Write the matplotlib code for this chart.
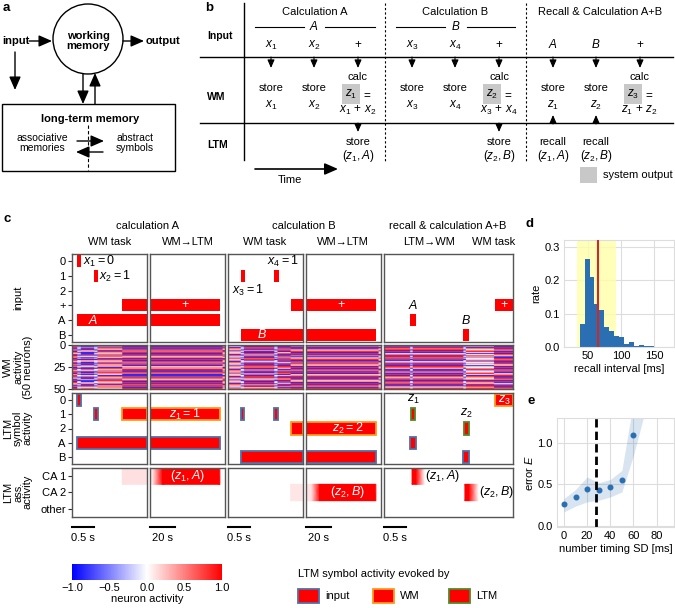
import numpy as np
import matplotlib
matplotlib.use('Agg')
import matplotlib.pyplot as plt
import matplotlib.transforms as mtransforms
from matplotlib.patches import Rectangle, Circle
from matplotlib.cm import ScalarMappable
from matplotlib.colors import Normalize

plt.rcParams['font.family'] = ['Liberation Sans', 'DejaVu Sans']
plt.rcParams['mathtext.fontset'] = 'custom'
plt.rcParams['mathtext.rm'] = 'Liberation Sans'
plt.rcParams['mathtext.it'] = 'Liberation Sans:italic'
plt.rcParams['font.size'] = 7.5

# ---------------- data ----------------
# panel b columns
b_inputs = ['$x_1$', '$x_2$', '+', '$x_3$', '$x_4$', '+', '$A$', '$B$', '+']
b_store = {0: '$x_1$', 1: '$x_2$', 3: '$x_3$', 4: '$x_4$', 6: '$z_1$', 7: '$z_2$'}
b_calc = {2: ('$z_1$', r'$x_1\,+\,x_2$'), 5: ('$z_2$', r'$x_3\,+\,x_4$'), 8: ('$z_3$', r'$z_1\,+\,z_2$')}
b_ltm_store = {2: '$(z_1, A)$', 5: '$(z_2, B)$'}
b_ltm_recall = {6: '$(z_1, A)$', 7: '$(z_2, B)$'}

# panel c
input_rows = ['0', '1', '2', '+', 'A', 'B']
symbol_rows = ['0', '1', '2', 'A', 'B']
ass_rows = ['CA 1', 'CA 2', 'other']
box_tmax = [1.7, 60, 1.7, 60, 2.93]
box_scale = [0.5, 20, 0.5, 20, 0.5]
box_scale_lbl = ['0.5 s', '20 s', '0.5 s', '20 s', '0.5 s']

# (box, row, t_start, t_end)
input_bars = [(0, 0, 0.12, 0.20), (0, 1, 0.50, 0.58), (0, 3, 1.14, 1.70), (0, 4, 0.12, 1.70),
              (1, 3, 0, 56), (1, 4, 0, 56),
              (2, 1, 0.29, 0.39), (2, 1, 1.05, 1.15), (2, 3, 1.42, 1.70), (2, 5, 0.29, 1.70),
              (3, 3, 0, 56), (3, 5, 0, 56),
              (4, 4, 0.59, 0.73), (4, 5, 1.80, 1.93), (4, 3, 2.52, 2.93)]
# (box, row, t, text, colour, ha)
input_labels = [(0, 0, 0.24, '$x_1 = 0$', 'k', 'left'), (0, 1, 0.61, '$x_2 = 1$', 'k', 'left'),
                (0, 4, 0.48, '$A$', 'w', 'center'), (1, 3, 28, '+', 'w', 'center'),
                (2, 2, 0.08, '$x_3 = 1$', 'k', 'left'), (2, 0, 1.6, '$x_4 = 1$', 'k', 'right'),
                (2, 5, 0.78, '$B$', 'w', 'center'), (3, 3, 28, '+', 'w', 'center'),
                (4, 3, 0.66, '$A$', 'k', 'center'), (4, 4, 1.87, '$B$', 'k', 'center'),
                (4, 3, 2.73, '+', 'w', 'center')]

# (box, row, t_start, t_end, evoked by)
symbol_bars = [(0, 0, 0.12, 0.20, 'input'), (0, 1, 0.50, 0.58, 'input'), (0, 1, 1.14, 1.70, 'WM'),
               (0, 3, 0.12, 1.70, 'input'),
               (1, 1, 0, 56, 'WM'), (1, 3, 0, 56, 'input'),
               (2, 1, 0.29, 0.37, 'input'), (2, 1, 1.05, 1.13, 'input'), (2, 2, 1.42, 1.70, 'WM'),
               (2, 4, 0.29, 1.70, 'input'),
               (3, 2, 0, 56, 'WM'), (3, 4, 0, 56, 'input'),
               (4, 1, 0.61, 0.71, 'LTM'), (4, 3, 0.59, 0.73, 'input'), (4, 2, 1.82, 1.92, 'LTM'),
               (4, 4, 1.80, 1.93, 'input'), (4, 0, 2.52, 2.93, 'WM')]
symbol_labels = [(1, 1, 28, '$z_1 = 1$', 'w', 'center'), (3, 2, 33, '$z_2 = 2$', 'w', 'center'),
                 (4, -0.05, 0.66, '$z_1$', 'k', 'center'), (4, 0.95, 1.87, '$z_2$', 'k', 'center'),
                 (4, 0, 2.73, '$z_3$', 'w', 'center')]
src_edge = {'input': '#4f6fa8', 'WM': '#ff9a1a', 'LTM': '#4f8a2a'}

# LTM associative activity keypoints: (box, row, times, values)
ass_keys = [(0, 0, [1.14, 1.70], [0.12, 0.12]),
            (1, 0, [0, 2.4, 10, 56, 56.05], [0.12, 0.12, 1, 1, 0]),
            (2, 1, [1.42, 1.70], [0.1, 0.1]),
            (3, 1, [0, 4.5, 11, 56, 56.05], [0.1, 0.12, 1, 1, 0]),
            (4, 0, [0.63, 0.64, 0.73, 0.92], [0, 1, 1, 0]),
            (4, 1, [1.83, 1.84, 1.93, 2.14], [0, 1, 1, 0])]
ass_labels = [(1, 0, 30, '$(z_1, A)$', 'w', 'center'), (3, 1, 33, '$(z_2, B)$', 'w', 'center'),
              (4, 0, 0.93, '$(z_1, A)$', 'k', 'left'), (4, 1, 2.15, '$(z_2, B)$', 'k', 'left')]

# WM neuron states (50 neurons, activity in quarters)
wm_init = [4, -3, 4, 4, -4, 2, 4, -4, 3, 1,
           4, -4, 4, 2, 3, -4, 4, 4, 1, -3,
           4, -4, 2, 4, 3, -4, 4, -4, 1, 3,
           4, 4, -4, 2, 4, -3, 4, 1, 3, -4,
           4, -4, 4, 2, 1, -4, 4, 3, -4, 4]
wm_x1 = [-4, -4, 2, -4, 4, -4, 1, 2, -4, -4,
         4, -4, 1, 1, -4, 3, -4, 2, 1, -4,
         -4, 4, -4, 2, 1, -3, -4, 4, 1, 2,
         -4, -4, 3, -4, 1, 2, -4, 4, -4, 1,
         -4, -4, 2, 1, -4, 4, -4, 2, 1, 3]
wm_blip = [-4, -3, 1, -2, 0, -4, 2, -1, -3, 1,
           2, -4, -1, 1, -3, 2, -4, -1, 1, 0,
           -4, 2, -2, -3, 1, 2, -4, 0, -1, 1,
           -4, -2, 2, -3, 0, 1, -4, -1, 2, -2,
           -4, 1, 0, -3, 2, 1, -4, -1, 1, 2]
wm_x2 = [2, 3, -3, 4, 1, 2, -4, 4, 2, 1,
         3, -2, 4, 2, 1, -4, 4, 2, 1, 3,
         -3, 4, 1, 2, 2, -4, 4, 1, 2, 3,
         -2, 4, 2, 1, -4, 4, 1, 2, 3, -3,
         4, 2, 1, 2, -4, 4, 1, 3, 2, 1]
wm_plusA = [-4, -4, 4, -4, 4, -3, 3, 3, 4, -4,
            4, -4, 2, 1, 3, -4, 4, -4, 4, 3,
            3, -3, 4, -4, 1, 2, 2, 4, -4, 4,
            -4, 3, 3, -4, -4, 4, -3, 4, 2, 1,
            4, -4, 4, -4, 3, 4, -3, 4, -4, 4]
wm_pre3 = [2, 1, -4, 4, 1, 2, -3, 2, 1, 1,
           -4, 4, 2, 1, -2, 3, 1, 2, -4, 4,
           1, 1, 2, -3, 2, 1, 2, -4, 4, 1,
           2, -2, 3, 1, 1, -4, 4, 2, 1, -3,
           2, 1, 2, -4, 4, 1, 2, 1, -2, 3]
wm_x3 = [4, -4, 4, 3, -4, 4, 2, -4, -4, 4,
         3, 1, -4, 4, -4, 3, 4, -3, 1, 2,
         -4, 4, -4, 4, 3, 3, -4, 4, 1, -4,
         4, -4, 2, 3, -4, 4, 4, -3, 1, 2,
         4, -4, 4, -4, 3, 2, -4, 4, 1, 3]
wm_x4 = [3, -4, 4, -4, 2, 4, 4, -4, 1, 3,
         -4, 4, -4, 2, 3, -3, 4, 4, -4, 1,
         2, -4, 4, -4, 4, 3, 1, -4, 4, 2,
         -4, 4, 3, -4, 1, 4, -4, 4, 2, 3,
         -4, 4, -3, 1, 4, -4, 4, 2, -4, 3]
wm_plusB = [4, 3, -4, 4, -4, 1, 2, 4, -4, 4,
            -4, 3, 3, -4, 1, 2, 4, -4, 4, -3,
            3, 4, 1, 2, -4, 4, -4, 4, 3, 3,
            -4, 4, -4, 1, 2, 4, -4, 4, -4, 3,
            1, 2, -4, 4, -4, 4, 3, 3, -4, 4]
wm_rec1 = [-4, 4, -4, 3, 3, 4, -4, 4, -4, 1,
           2, 4, -4, 4, 3, -3, 4, -4, 1, 2,
           3, -4, 4, -4, 4, 3, 1, -4, 4, -4,
           2, 3, -4, 4, -4, 4, 1, 2, -3, 4,
           -4, 4, 3, 3, -4, 4, -4, 1, 2, 4]
wm_rec2 = [4, 2, -4, 4, 1, 0, 3, 4, 1, -4,
           0, 2, 4, 1, -2, 0, 1, 3, -3, 0,
           1, 2, 0, -4, 1, 0, 2, 4, -3, 0,
           1, 2, 4, 1, -4, 4, 2, 1, 0, 3,
           -4, 4, 2, 1, 4, -4, 4, 3, 2, 4]
wm_final = [-4, -4, 4, -4, 4, 3, 3, -4, 4, -4,
            4, 1, 2, -4, -4, 4, 3, 4, -4, 4,
            -4, 3, 1, 2, -4, 4, -4, 4, 3, -3,
            4, -4, 1, 2, 4, -4, 4, -4, 3, 3,
            -4, 4, -4, 1, 2, -4, 4, -4, 4, 3]

# (segment end time, state) per box
wm_box1 = [(0.12, wm_init), (0.20, wm_blip), (0.50, wm_x1), (0.58, wm_blip), (1.14, wm_x2), (1.70, wm_plusA)]
wm_box2 = [(58, wm_plusA), (60, wm_x2)]
wm_box3 = [(0.29, wm_pre3), (0.36, wm_blip), (1.05, wm_x3), (1.12, wm_blip), (1.42, wm_x4), (1.70, wm_plusB)]
wm_box4 = [(58, wm_plusB), (60, wm_pre3)]
wm_box5 = [(0.59, wm_rec1), (0.65, wm_blip), (1.80, wm_rec1), (1.86, wm_blip), (2.50, wm_rec2), (2.93, wm_final)]
wm_boxes = [wm_box1, wm_box2, wm_box3, wm_box4, wm_box5]

# panel d
interval_bins = [37.5, 45, 52.5, 60, 67.5, 75, 82.5, 90, 97.5, 105, 112.5, 120, 127.5, 135, 142.5, 150, 157.5]
interval_rate = [0.068, 0.264, 0.209, 0.128, 0.112, 0.061, 0.049, 0.033, 0.030, 0.008, 0.015, 0.004, 0.005, 0.003, 0.002, 0.001, 0.001]
interval_mean = 66
interval_range = (34, 93)

# panel e
timing_sd = [0, 10, 20, 30, 40, 50, 60, 70]
error_mean = [0.27, 0.35, 0.45, 0.43, 0.47, 0.55, 1.09, 1.70]
error_lo = [0.17, 0.24, 0.29, 0.31, 0.35, 0.41, 0.85, 1.38]
error_hi = [0.33, 0.44, 0.59, 0.52, 0.56, 0.67, 1.50, 2.00]
timing_measured = 28

# ---------------- figure ----------------
W, H = 675, 608
fig = plt.figure(figsize=(W / 100, H / 100), dpi=100)


def px_axes(x0, y0, x1, y1):
    return fig.add_axes([x0 / W, 1 - y1 / H, (x1 - x0) / W, (y1 - y0) / H])


ov = px_axes(0, 0, W, H)
ov.set_xlim(0, W)
ov.set_ylim(H, 0)
ov.axis('off')


def arrow(x0, y0, x1, y1, lw=1.0, ms=10, hl=0.8, hw=0.35):
    ov.annotate('', xy=(x1, y1), xytext=(x0, y0),
                arrowprops=dict(arrowstyle='-|>,head_length=%g,head_width=%g' % (hl, hw),
                                lw=lw, color='k', shrinkA=0, shrinkB=0, mutation_scale=ms))


# ---- panel a
ov.text(3, 8, 'a', fontweight='bold', fontsize=9.5, va='center')
ov.add_patch(Circle((88, 39), 35, fill=False, lw=1))
ov.text(88, 41, 'working\nmemory', ha='center', va='center', fontweight='bold', fontsize=8, linespacing=0.95)
ov.text(2, 41, 'input', fontweight='bold', fontsize=8, va='center')
arrow(29, 41, 52, 41)
arrow(123, 41, 144, 41)
ov.text(146, 41, 'output', fontweight='bold', fontsize=8, va='center')
arrow(15, 52, 15, 90)
ov.add_patch(Rectangle((2, 104), 173, 67, fill=False, lw=1))
arrow(83, 74, 83, 104)
arrow(95, 104, 95, 73)
ov.text(90, 119, 'long-term memory', ha='center', va='center', fontweight='bold', fontsize=8)
ov.plot([88, 88], [125, 170], color='k', lw=0.8, dashes=(3, 2))
ov.text(42, 143, 'associative\nmemories', ha='center', va='center', fontsize=7.5, linespacing=0.9)
ov.text(135, 143, 'abstract\nsymbols', ha='center', va='center', fontsize=7.5, linespacing=0.9)
arrow(77, 141, 104, 141)
arrow(103, 152, 76, 152)

# ---- panel b
ov.text(205, 8, 'b', fontweight='bold', fontsize=9.5, va='center')
ov.plot([244, 244], [3, 160], color='k', lw=1)
ov.plot([200, 673], [57, 57], color='k', lw=1)
ov.plot([200, 673], [123, 123], color='k', lw=1)
for xd in [385, 526]:
    ov.plot([xd, xd], [3, 163], color='k', lw=0.8, dashes=(2, 2))
ov.text(207, 36, 'Input', fontweight='bold', va='center')
ov.text(207, 97, 'WM', fontweight='bold', va='center')
ov.text(207, 145, 'LTM', fontweight='bold', va='center')
ov.text(315, 12, 'Calculation A', ha='center', va='center', fontsize=8)
ov.text(455, 12, 'Calculation B', ha='center', va='center', fontsize=8)
ov.text(600, 12, 'Recall & Calculation A+B', ha='center', va='center', fontsize=8)
ov.plot([255, 304], [27, 27], 'k', lw=0.8)
ov.plot([325, 375], [27, 27], 'k', lw=0.8)
ov.text(314, 27, '$A$', ha='center', va='center', fontsize=8.5)
ov.plot([396, 445], [27, 27], 'k', lw=0.8)
ov.plot([467, 515], [27, 27], 'k', lw=0.8)
ov.text(456, 27, '$B$', ha='center', va='center', fontsize=8.5)
b_cols = [271, 314, 358, 412, 455, 499, 553, 596, 640]
for i, xc in enumerate(b_cols):
    ov.text(xc, 45, b_inputs[i], ha='center', va='center', fontsize=8.5)
    arrow(xc, 57, xc, 68, lw=0.8, ms=6)
    if i in b_store:
        ov.text(xc, 88, 'store', ha='center', va='center', fontsize=8)
        ov.text(xc, 105, b_store[i], ha='center', va='center', fontsize=8.5)
    if i in b_calc:
        ov.text(xc, 77, 'calc', ha='center', va='center', fontsize=8)
        ov.text(xc - 7, 94, b_calc[i][0], ha='center', va='center', fontsize=8.5,
                bbox=dict(boxstyle='square,pad=0.25', fc='#c8c8c8', ec='none'))
        ov.text(xc + 9, 94, '$=$', ha='center', va='center', fontsize=8.5)
        ov.text(xc, 110, b_calc[i][1], ha='center', va='center', fontsize=8.5)
    if i in b_ltm_store:
        arrow(xc, 123, xc, 132, lw=0.8, ms=6)
        ov.text(xc, 142, 'store', ha='center', va='center', fontsize=8)
        ov.text(xc, 156, b_ltm_store[i], ha='center', va='center', fontsize=8.5)
    if i in b_ltm_recall:
        arrow(xc, 124, xc, 115, lw=0.8, ms=6)
        ov.text(xc, 142, 'recall', ha='center', va='center', fontsize=8)
        ov.text(xc, 156, b_ltm_recall[i], ha='center', va='center', fontsize=8.5)
arrow(255, 169, 338, 169, lw=1.2, ms=10)
ov.text(290, 180, 'Time', ha='center', va='center', fontsize=8)
ov.add_patch(Rectangle((580, 167), 17, 16, fc='#c8c8c8', ec='none'))
ov.text(603, 175, 'system output', va='center', fontsize=8)

# ---- panel c
ov.text(3, 219, 'c', fontweight='bold', fontsize=9.5, va='center')
ov.text(148, 226, 'calculation A', ha='center', va='center', fontsize=8)
ov.text(304, 226, 'calculation B', ha='center', va='center', fontsize=8)
ov.text(448, 226, 'recall & calculation A+B', ha='center', va='center', fontsize=8)
for xh, lbl in [(110, 'WM task'), (188, 'WM\u2192LTM'), (265, 'WM task'), (343, 'WM\u2192LTM'),
                (429, 'LTM\u2192WM'), (494, 'WM task')]:
    ov.text(xh, 242, lbl, ha='center', va='center', fontsize=8)
for yl, lbl in [(298, 'input'), (367, 'WM\nactivity\n(50 neurons)'),
                (428, 'LTM\nsymbol\nactivity'), (492, 'LTM\nass.\nactivity')]:
    ov.text(18, yl, lbl, rotation=90, ha='center', va='center', fontsize=8, linespacing=0.95)

box_px = [(72, 147), (150, 225), (228, 303), (306, 381), (384, 513)]
row_px = {'input': (254, 342), 'wm': (345, 389), 'sym': (393, 464), 'ass': (468, 517)}
cmap = plt.get_cmap('bwr')


def style_box(ax, b, tmax):
    ax.set_xlim(0, tmax)
    ax.set_xticks([])
    for s in ax.spines.values():
        s.set_color('#555555')
        s.set_linewidth(1)
    ax.tick_params(axis='y', length=3, width=0.8, color='#333333', labelsize=8, pad=1.5)
    if b > 0:
        ax.set_yticks([])


for b, (x0, x1) in enumerate(box_px):
    tmax = box_tmax[b]

    # input
    ax = px_axes(x0, row_px['input'][0], x1, row_px['input'][1])
    style_box(ax, b, tmax)
    ax.set_ylim(5.5, -0.5)
    for bb, r, t0, t1 in input_bars:
        if bb == b:
            ax.barh(r, t1 - t0, left=t0, height=0.82, color='#ff0000', lw=0)
    for bb, r, t, txt, col, ha in input_labels:
        if bb == b:
            ax.text(t, r, txt, color=col, ha=ha, va='center', fontsize=9)
    if b == 0:
        ax.set_yticks(range(6))
        ax.set_yticklabels(input_rows)

    # WM activity
    ax = px_axes(x0, row_px['wm'][0], x1, row_px['wm'][1])
    style_box(ax, b, tmax)
    tc = (np.arange(400) + 0.5) * tmax / 400
    cols = []
    for t in tc:
        for t_end, state in wm_boxes[b]:
            if t < t_end:
                cols.append(state)
                break
        else:
            cols.append(wm_boxes[b][-1][1])
    img = np.array(cols).T / 4.0
    ax.imshow(img, extent=(0, tmax, 50, 0), aspect='auto', cmap=cmap, vmin=-1, vmax=1,
              interpolation='antialiased', alpha=0.85)
    ax.set_xlim(0, tmax)
    ax.set_ylim(50, 0)
    if b == 0:
        ax.set_yticks([0, 25, 50])

    # LTM symbol activity
    ax = px_axes(x0, row_px['sym'][0], x1, row_px['sym'][1])
    style_box(ax, b, tmax)
    ax.set_ylim(4.5, -0.5)
    for bb, r, t0, t1, src in symbol_bars:
        if bb == b:
            ax.barh(r, t1 - t0, left=t0, height=0.86, color='#ff0000', edgecolor=src_edge[src], lw=1.3)
    for bb, r, t, txt, col, ha in symbol_labels:
        if bb == b:
            ax.text(t, r, txt, color=col, ha=ha, va='center', fontsize=9)
    if b == 0:
        ax.set_yticks(range(5))
        ax.set_yticklabels(symbol_rows)

    # LTM associative activity
    ax = px_axes(x0, row_px['ass'][0], x1, row_px['ass'][1])
    style_box(ax, b, tmax)
    ax.set_ylim(2.5, -0.5)
    for bb, r, ts, vs in ass_keys:
        if bb == b:
            X = np.array([ts, ts])
            Y = np.array([[r - 0.5] * len(ts), [r + 0.5] * len(ts)])
            C = np.array([vs, vs])
            ax.pcolormesh(X, Y, C, shading='gouraud', cmap=cmap, vmin=-1, vmax=1)
    for bb, r, t, txt, col, ha in ass_labels:
        if bb == b:
            ax.text(t, r, txt, color=col, ha=ha, va='center', fontsize=9)
    ax.set_xlim(0, tmax)
    ax.set_ylim(2.5, -0.5)
    if b == 0:
        ax.set_yticks(range(3))
        ax.set_yticklabels(ass_rows)
    # scale bar
    tr = mtransforms.blended_transform_factory(ax.transData, ax.transAxes)
    ax.plot([0, box_scale[b]], [-0.2, -0.2], color='k', lw=1.5, transform=tr, clip_on=False)
    ax.text(box_scale[b] / 2, -0.42, box_scale_lbl[b], transform=tr, ha='center', va='center', fontsize=8)

# colorbar
cax = px_axes(72, 564, 222, 580)
cb = fig.colorbar(ScalarMappable(norm=Normalize(-1, 1), cmap=cmap), cax=cax, orientation='horizontal')
cb.set_ticks([-1, -0.5, 0, 0.5, 1])
cb.outline.set_visible(False)
cax.tick_params(length=0, labelsize=8, pad=2)
cb.set_label('neuron activity', fontsize=8, labelpad=1)

# legend for symbol activity
ov.text(298, 574, 'LTM symbol activity evoked by', va='center', fontsize=8)
for xl, src in [(298, 'input'), (373, 'WM'), (449, 'LTM')]:
    ov.add_patch(Rectangle((xl, 589), 21, 14, fc='#ff0000', ec=src_edge[src], lw=1.3))
    ov.text(xl + 27, 596, src, va='center', fontsize=8)

# ---- panel d
ov.text(525, 224, 'd', fontweight='bold', fontsize=9.5, va='center')
ax = px_axes(564, 240, 674, 347)
ax.axvspan(interval_range[0], interval_range[1], color='#ffffa8', alpha=0.8, lw=0, zorder=1)
ax.bar(interval_bins, interval_rate, width=7.5, align='edge', color='#2a6fb2', lw=0, zorder=2)
ax.axvline(interval_mean, color='#cc2a2a', lw=1.5, zorder=3)
ax.set_xlim(14, 180)
ax.set_ylim(0, 0.32)
ax.set_xticks([50, 100, 150])
ax.set_yticks([0, 0.1, 0.2, 0.3])
ax.grid(True, color='#dddddd', lw=0.8)
ax.set_axisbelow(True)
ax.tick_params(length=0, labelsize=8, pad=3)
for s in ax.spines.values():
    s.set_color('#dddddd')
ax.set_xlabel('recall interval [ms]', fontsize=8, labelpad=2)
ax.set_ylabel('rate', fontsize=8, labelpad=2)

# ---- panel e
ov.text(527, 401, 'e', fontweight='bold', fontsize=9.5, va='center')
ax = px_axes(557, 418, 674, 527)
ax.fill_between(timing_sd, error_lo, error_hi, color='#2a6fb2', alpha=0.18, lw=0)
ax.plot(timing_sd, error_mean, 'o', color='#2a6fb2', ms=3.3)
ax.axvline(timing_measured, color='k', lw=2, dashes=(3, 1.5))
ax.set_xlim(-6, 95)
ax.set_ylim(-0.012, 1.3)
ax.set_xticks([0, 20, 40, 60, 80])
ax.set_yticks([0, 0.5, 1.0])
ax.grid(True, color='#dddddd', lw=0.8)
ax.set_axisbelow(True)
ax.tick_params(length=0, labelsize=8, pad=3)
for s in ax.spines.values():
    s.set_color('#dddddd')
ax.set_xlabel('number timing SD [ms]', fontsize=8, labelpad=2)
ax.set_ylabel('error $E$', fontsize=8, labelpad=2)

fig.savefig('out.png', dpi=100)
